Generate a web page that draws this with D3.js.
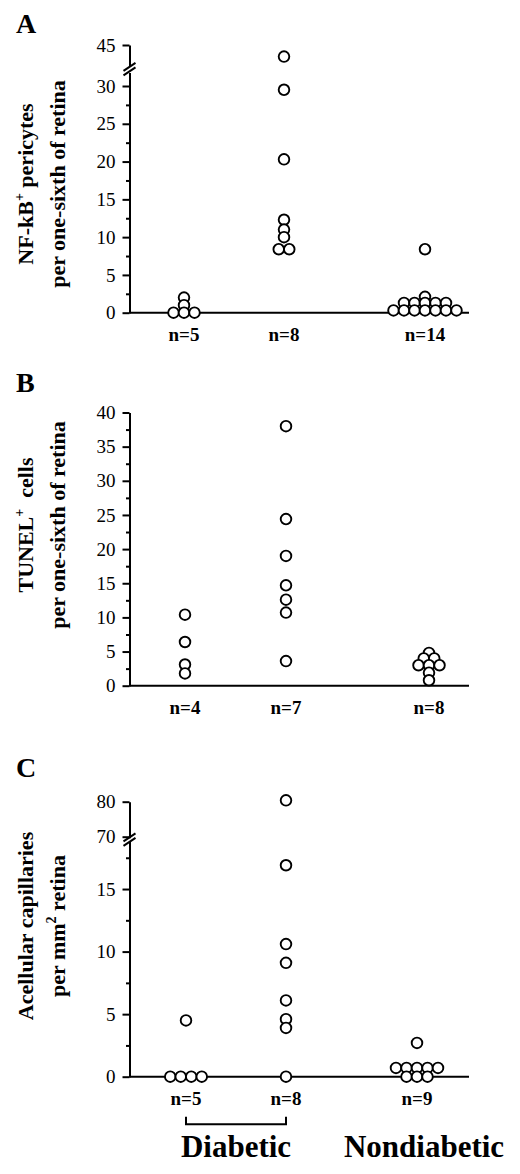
<!DOCTYPE html>
<html>
  <head>
    <meta charset="utf-8">
    <title>NF-kB+ pericytes, TUNEL+ cells and acellular capillaries</title>
    <style>
      body { margin: 0; background: #fff; }
      svg { display: block; font-family: "Liberation Serif", "Times New Roman", serif; }
    </style>
  </head>
  <body>
    <div id="figure"></div>
    <script src="https://cdn.jsdelivr.net/npm/d3@7/dist/d3.min.js"></script>
    <script>
    var groups = ['Diabetic 1', 'Diabetic 2', 'Nondiabetic'];

    // A: NF-kB+ pericytes per one-sixth of retina
    var nfkbDiabetic1 = [2, 1, 0, 0, 0];
    var nfkbDiabetic2 = [42, 29.5, 20.3, 12.3, 11, 10, 8.4, 8.4];
    var nfkbNondiabetic = [8.4, 2.1, 1.3, 1.3, 1.3, 1.3, 1.3, 0.3, 0.3, 0.3, 0.3, 0.3, 0.3, 0.3];
    var nfkbTicks = [0, 5, 10, 15, 20, 25, 30];
    var nfkbMinorTicks = [2.5, 7.5, 12.5, 17.5, 22.5, 27.5];
    var nfkbUpperTicks = [45];

    // B: TUNEL+ cells per one-sixth of retina
    var tunelDiabetic1 = [10.4, 6.4, 3.1, 1.8];
    var tunelDiabetic2 = [38, 24.4, 19, 14.7, 12.6, 10.7, 3.6];
    var tunelNondiabetic = [4.8, 4, 4, 3, 3, 3, 1.9, 0.8];
    var tunelTicks = [0, 5, 10, 15, 20, 25, 30, 35, 40];
    var tunelMinorTicks = [2.5, 7.5, 12.5, 17.5, 22.5, 27.5, 32.5, 37.5];

    // C: acellular capillaries per mm2 retina
    var acellDiabetic1 = [4.5, 0, 0, 0, 0];
    var acellDiabetic2 = [80.4, 16.9, 10.6, 9.1, 6.1, 4.6, 3.9, 0];
    var acellNondiabetic = [2.7, 0.7, 0.7, 0.7, 0.7, 0.7, 0, 0, 0];
    var acellTicks = [0, 5, 10, 15];
    var acellMinorTicks = [2.5, 7.5, 12.5, 17.5];
    var acellUpperTicks = [70, 80];

    var W = 520;
    var H = 1174;
    var AX = 129.5;      // y axis position
    var AX_END = 469;    // right end of the baseline
    var R = 5.3;
    var STEP = 10.5;     // horizontal spacing of tied values

    var panels = [
        {
            letter: 'A', letterY: 33,
            series: [nfkbDiabetic1, nfkbDiabetic2, nfkbNondiabetic],
            ticks: nfkbTicks, minor: nfkbMinorTicks, upperTicks: nfkbUpperTicks,
            lower: {domain: [0, 31.8], range: [312.7, 72.4]},
            upper: {domain: [39.6, 45], range: [65.9, 45]},
            xs: [184, 284, 425],
            titleY: 184,
            title: [
                [{t: 'NF-kB'}, {t: '+', sup: true}, {t: ' pericytes'}],
                [{t: 'per one-sixth of retina'}]
            ]
        },
        {
            letter: 'B', letterY: 392,
            series: [tunelDiabetic1, tunelDiabetic2, tunelNondiabetic],
            ticks: tunelTicks, minor: tunelMinorTicks, upperTicks: null,
            lower: {domain: [0, 40], range: [685.7, 412.5]},
            upper: null,
            xs: [185, 286, 429],
            titleY: 525,
            title: [
                [{t: 'TUNEL'}, {t: '+', sup: true}, {t: '  cells'}],
                [{t: 'per one-sixth of retina'}]
            ]
        },
        {
            letter: 'C', letterY: 777,
            series: [acellDiabetic1, acellDiabetic2, acellNondiabetic],
            ticks: acellTicks, minor: acellMinorTicks, upperTicks: acellUpperTicks,
            lower: {domain: [0, 18.8], range: [1076.7, 841.5]},
            upper: {domain: [69.7, 80], range: [837.75, 801.7]},
            xs: [186, 286, 417],
            titleY: 926,
            title: [
                [{t: 'Acellular capillaries'}],
                [{t: 'per mm'}, {t: '2', sup: true}, {t: ' retina'}]
            ]
        }
    ];

    var svg = d3.select('#figure')
                .append('svg')
                .attr('width', W)
                .attr('height', H);

    var styleAxis = function(g){
        g.attr('font-family', null).attr('font-size', null);
        g.selectAll('.domain').attr('stroke', '#000').attr('stroke-width', 2);
        g.selectAll('.tick line').attr('stroke', '#000').attr('stroke-width', 2);
        g.selectAll('.tick text')
         .attr('fill', '#000')
         .style('font-family', '"Liberation Serif", serif')
         .style('font-size', '19px');
    };

    // spread tied values side by side, everything else on the group centre
    var swarm = function(values){
        var rows = d3.group(values, function(v){ return v; });
        var out = [];
        rows.forEach(function(row, v){
            for(var i = 0; i < row.length; i++){
                out.push({v: v, dx: (i - (row.length - 1) / 2) * STEP});
            }
        });
        return out;
    };

    panels.forEach(function(p){
        var lower = d3.scaleLinear().domain(p.lower.domain).range(p.lower.range);
        var upper = p.upper ? d3.scaleLinear().domain(p.upper.domain).range(p.upper.range) : null;
        var yOf = function(v){
            return (upper && v >= p.upper.domain[0]) ? upper(v) : lower(v);
        };
        var x = d3.scaleOrdinal().domain(groups).range(p.xs);
        var y0 = lower(0);

        var g = svg.append('g');

        g.append('text')
         .attr('x', 16)
         .attr('y', p.letterY)
         .attr('font-size', 28)
         .attr('font-weight', 'bold')
         .text(p.letter);

        // y axis
        var ax = g.append('g').attr('transform', 'translate(' + AX + ',0)');
        ax.append('g')
          .call(d3.axisLeft(lower).tickValues(p.minor).tickSize(3.5).tickSizeOuter(0).tickFormat(''))
          .call(styleAxis);
        ax.append('g')
          .call(d3.axisLeft(lower).tickValues(p.ticks).tickSize(7).tickSizeOuter(0)
                  .tickPadding(7).tickFormat(d3.format('d')))
          .call(styleAxis);
        if(upper){
            ax.append('g')
              .call(d3.axisLeft(upper).tickValues(p.upperTicks).tickSize(7).tickSizeOuter(0)
                      .tickPadding(7).tickFormat(d3.format('d')))
              .call(styleAxis);
            var by = (p.upper.range[0] + p.lower.range[1]) / 2;
            [-2.2, 2.2].forEach(function(d){
                ax.append('line')
                  .attr('x1', -6).attr('y1', by + d + 4)
                  .attr('x2', 6).attr('y2', by + d - 4)
                  .attr('stroke', '#000')
                  .attr('stroke-width', 2);
            });
        }

        // baseline
        g.append('line')
         .attr('x1', AX).attr('x2', AX_END)
         .attr('y1', y0).attr('y2', y0)
         .attr('stroke', '#000')
         .attr('stroke-width', 2);

        // axis title
        var tx = [33, 65];
        p.title.forEach(function(parts, li){
            var t = g.append('text')
                     .attr('transform', 'translate(' + tx[li] + ',' + p.titleY + ') rotate(-90)')
                     .attr('text-anchor', 'middle')
                     .attr('font-size', 22)
                     .attr('font-weight', 'bold')
                     .style('white-space', 'pre');
            var shifted = false;
            parts.forEach(function(part){
                var s = t.append('tspan').text(part.t);
                if(part.sup){
                    s.attr('font-size', 14).attr('dy', -9);
                    shifted = true;
                }else if(shifted){
                    s.attr('dy', 9);
                    shifted = false;
                }
            });
        });

        // points
        p.series.forEach(function(values, gi){
            var cx = x(groups[gi]);
            g.append('g')
             .selectAll('circle')
             .data(swarm(values))
             .enter()
             .append('circle')
             .attr('cx', function(d){ return cx + d.dx; })
             .attr('cy', function(d){ return yOf(d.v); })
             .attr('r', R)
             .attr('fill', '#fff')
             .attr('stroke', '#000')
             .attr('stroke-width', 1.9);

            g.append('text')
             .attr('x', cx)
             .attr('y', y0 + 28)
             .attr('text-anchor', 'middle')
             .attr('font-size', 19)
             .attr('font-weight', 'bold')
             .text('n=' + values.length);
        });

        // group bracket under the last panel
        if(p.letter === 'C'){
            g.append('path')
             .attr('d', 'M' + x(groups[0]) + ',' + (y0 + 40) + 'V' + (y0 + 47.6) +
                        'H' + x(groups[1]) + 'V' + (y0 + 40))
             .attr('fill', 'none')
             .attr('stroke', '#000')
             .attr('stroke-width', 2);
            g.append('text')
             .attr('x', (x(groups[0]) + x(groups[1])) / 2)
             .attr('y', y0 + 80.5)
             .attr('text-anchor', 'middle')
             .attr('font-size', 31)
             .attr('font-weight', 'bold')
             .text('Diabetic');
            g.append('text')
             .attr('x', x(groups[2]) + 7)
             .attr('y', y0 + 80.5)
             .attr('text-anchor', 'middle')
             .attr('font-size', 31)
             .attr('font-weight', 'bold')
             .text('Nondiabetic');
        }
    });
    </script>
  </body>
</html>
